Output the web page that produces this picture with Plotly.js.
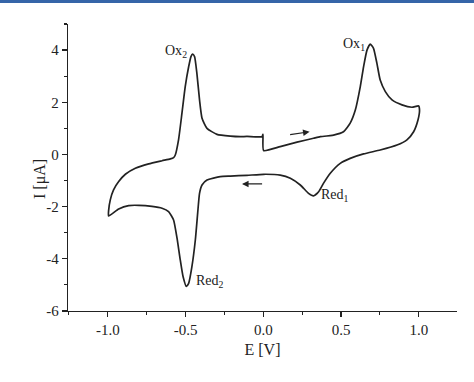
<!DOCTYPE html>
<html>
<head>
<meta charset="utf-8">
<script src="https://cdn.plot.ly/plotly-3.0.1.min.js"></script>
<style>
html,body{margin:0;padding:0;background:#fff;}
#chart{width:474px;height:382px;}
</style>
</head>
<body>
<div id="chart"></div>
<script>
// Cyclic voltammogram: potential E [V] and current I [µA], in scan order
const potentialV = [
  0.002, 0.109, 0.217, 0.323, 0.367, 0.43, 0.452, 0.516, 0.559, 0.592, 0.624, 0.645, 0.667, 0.688, 0.709, 0.731, 0.752, 0.785, 0.828, 0.892, 0.956, 0.999, 1.005,
  0.995, 0.967, 0.924, 0.86, 0.752, 0.645, 0.559, 0.495, 0.431, 0.388, 0.356, 0.323, 0.291, 0.238, 0.174, 0.109, 0.002, -0.105, -0.212, -0.277, -0.362, -0.394, -0.41, -0.422, -0.437, -0.459, -0.48, -0.495, -0.516, -0.534, -0.555, -0.577, -0.609, -0.651, -0.716, -0.80, -0.866, -0.93, -0.995,
  -0.995, -0.984, -0.963, -0.93, -0.887, -0.823, -0.737, -0.651, -0.598, -0.577, -0.566, -0.545, -0.523, -0.502, -0.48, -0.465, -0.455, -0.442, -0.427, -0.41, -0.394, -0.362, -0.298, -0.212, -0.148, -0.105, -0.008, -0.002, 0.002
];
const currentUA = [
  0.15, 0.30, 0.47, 0.62, 0.68, 0.72, 0.74, 0.87, 1.2, 1.7, 2.6, 3.36, 4.0, 4.23, 4.07, 3.49, 2.85, 2.41, 2.09, 1.9, 1.81, 1.86, 1.7,
  1.32, 0.87, 0.56, 0.36, 0.17, 0.02, -0.15, -0.34, -0.72, -1.1, -1.43, -1.59, -1.49, -1.17, -0.91, -0.79, -0.76, -0.80, -0.83, -0.85, -0.98, -1.17, -1.49, -2.25, -3.28, -4.3, -4.94, -5.06, -4.68, -4.04, -3.2, -2.51, -2.19, -2.06, -1.99, -1.95, -1.96, -2.09, -2.36,
  -2.16, -1.74, -1.36, -1.04, -0.76, -0.53, -0.36, -0.24, -0.17, -0.12, -0.02, 0.56, 1.58, 2.6, 3.36, 3.75, 3.85, 3.75, 3.11, 2.09, 1.39, 1.0, 0.77, 0.7, 0.68, 0.69, 0.68, 0.77, 0.15
];
// peak labels
const peakLabels = ["Ox<sub>2</sub>", "Ox<sub>1</sub>", "Red<sub>2</sub>", "Red<sub>1</sub>"];
const peakLabelE = [-0.56, 0.583, -0.344, 0.463];
const peakLabelI = [3.93, 4.2, -4.85, -1.59];
// scan-direction arrows
const arrowTailE = [0.163, 0.002];
const arrowTailI = [0.75, -1.13];
const arrowHeadE = [0.298, -0.137];
const arrowHeadI = [0.87, -1.13];
const xTickVals = [-1.0, -0.5, 0.0, 0.5, 1.0];
const xTickText = ["-1.0", "-0.5", "0.0", "0.5", "1.0"];
const yTickVals = [-6, -4, -2, 0, 2, 4];
const yTickText = ["-6", "-4", "-2", "0", "2", "4"];

const serif = "Liberation Serif, Times New Roman, serif";
const ink = "#222222";

const trace = {
  x: potentialV, y: currentUA, type: "scatter", mode: "lines",
  line: {color: ink, width: 1.7, shape: "spline", smoothing: 0.5},
  hoverinfo: "skip"
};

const annotations = [];
for (let i = 0; i < peakLabels.length; i++) {
  annotations.push({
    x: peakLabelE[i], y: peakLabelI[i], xref: "x", yref: "y",
    text: peakLabels[i], showarrow: false,
    font: {family: serif, size: 14, color: ink}
  });
}
for (let i = 0; i < arrowTailE.length; i++) {
  annotations.push({
    x: arrowHeadE[i], y: arrowHeadI[i], ax: arrowTailE[i], ay: arrowTailI[i],
    xref: "x", yref: "y", axref: "x", ayref: "y",
    text: "", showarrow: true, arrowhead: 2, arrowsize: 1.1, arrowwidth: 1.2, arrowcolor: ink
  });
}
annotations.push({
  x: (29 - 68) / 389, y: (311 - 179) / 287, xref: "paper", yref: "paper",
  text: "I [\u03bcA]", textangle: -90, showarrow: false,
  font: {family: serif, size: 16, color: ink}
});

const layout = {
  width: 474, height: 382,
  margin: {l: 68, r: 17, t: 24, b: 71},
  paper_bgcolor: "#ffffff", plot_bgcolor: "#ffffff",
  showlegend: false,
  font: {family: serif, color: ink},
  xaxis: {
    range: [-1.256, 1.246], showgrid: false, zeroline: false,
    showline: true, linecolor: ink, linewidth: 1.3, mirror: false,
    ticks: "outside", ticklen: 5, tickwidth: 1.3, tickcolor: ink,
    tickvals: xTickVals, ticktext: xTickText,
    tickfont: {family: serif, size: 15, color: ink},
    minor: {dtick: 0.25, tick0: 0, ticks: "outside", ticklen: 3, tickwidth: 1.1, tickcolor: ink, showgrid: false},
    title: {text: "E [V]", font: {family: serif, size: 16, color: ink}, standoff: 6}
  },
  yaxis: {
    range: [-6, 5.0], showgrid: false, zeroline: false,
    showline: true, linecolor: ink, linewidth: 1.3, mirror: false,
    ticks: "outside", ticklen: 5, tickwidth: 1.3, tickcolor: ink,
    tickvals: yTickVals, ticktext: yTickText,
    tickfont: {family: serif, size: 15, color: ink},
    minor: {dtick: 1, tick0: 0, ticks: "outside", ticklen: 3, tickwidth: 1.1, tickcolor: ink, showgrid: false}
  },
  shapes: [{
    type: "rect", xref: "paper", yref: "paper",
    x0: -0.2, x1: 1.1, y0: (311 - 3) / 287, y1: (311 + 2) / 287,
    fillcolor: "#3565a8", line: {width: 0}
  }],
  annotations: annotations
};

Plotly.newPlot("chart", [trace], layout, {staticPlot: true, displayModeBar: false});
</script>
</body>
</html>
